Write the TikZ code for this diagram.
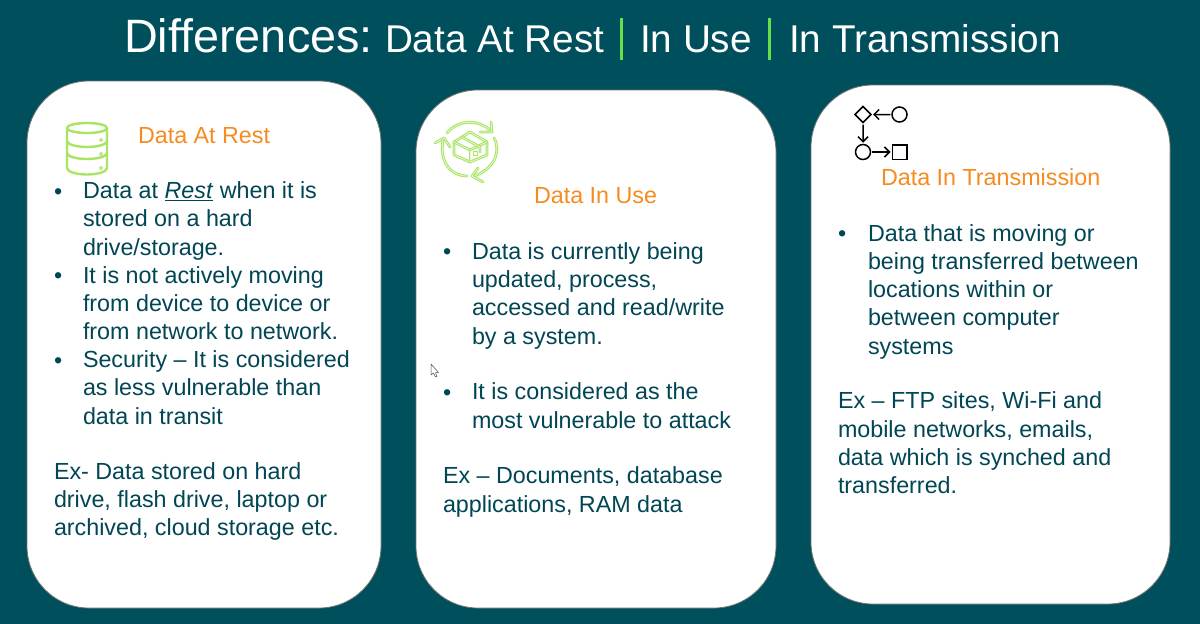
\documentclass[tikz,border=0pt]{standalone}
\usepackage{fontspec}
\setmainfont{Liberation Sans}
\usetikzlibrary{arrows.meta}
\definecolor{bgteal}{HTML}{004F5C}
\definecolor{bodyteal}{HTML}{004654}
\definecolor{headorange}{HTML}{F68B1F}
\definecolor{iconlime}{HTML}{A9E565}
\definecolor{barlime}{HTML}{66E04A}
\tikzset{
 card/.style={draw=black!55,line width=0.8pt,fill=white,rounded corners=62pt},
 para/.style={anchor=base west,inner sep=0pt,outer sep=0pt,align=left,text=bodyteal,font=\fontsize{23.3}{28.2}\selectfont},
 bul/.style={anchor=base west,inner sep=0pt,outer sep=0pt,text=bodyteal,font=\fontsize{23.3}{28.2}\selectfont},
 head/.style={anchor=base west,inner sep=0pt,outer sep=0pt,text=headorange,font=\fontsize{23.3}{26}\selectfont},
 ttl/.style={anchor=base west,inner sep=0pt,outer sep=0pt,text=white},
 bar/.style={draw=barlime,line width=3pt},
 ico/.style={draw=iconlime,line width=2.4pt,line cap=round,line join=round},
 ico2/.style={draw=iconlime,line width=1pt,double=white!70!iconlime,double distance=0.8pt,line cap=round,line join=round},
 flow/.style={draw=black,line width=1.5pt,fill=none},
 flowarr/.style={draw=black,line width=1.5pt,-{Straight Barb[length=5pt,width=10pt]}},
}
\begin{document}
\begin{tikzpicture}[x=1pt,y=-1pt]
\useasboundingbox (0,0) rectangle (1200,624);
\fill[bgteal] (0,0) rectangle (1200,624);
% title
\node[ttl,font=\fontsize{46.8}{50}\selectfont] (t1) at (124,52) {Differences:};
\node[ttl,font=\fontsize{38.7}{40}\selectfont] (t2) at (385,52) {Data At Rest};
\node[ttl,font=\fontsize{38.7}{40}\selectfont] (t3) at (640,52) {In Use};
\node[ttl,font=\fontsize{38.7}{40}\selectfont] (t4) at (789,52) {In Transmission};
\draw[bar] (621,18) -- (621,60);
\draw[bar] (769,18) -- (769,60);
% cards
\draw[card] (27,81) rectangle (381,608);
\draw[card] (416,90) rectangle (776,608);
\draw[card] (811,85) rectangle (1170,604);
% card 1
\node[head] (h1) at (138,143) {Data At Rest};
\draw[ico] (67,128) -- (67,168) arc[start angle=180,end angle=360,x radius=20,y radius=-6.5] -- (107,128);
\draw[ico] (87,128) ellipse[x radius=20,y radius=5];
\draw[ico] (67,141) arc[start angle=180,end angle=360,x radius=20,y radius=-6];
\draw[ico] (67,153) arc[start angle=180,end angle=360,x radius=20,y radius=-6];
\foreach \yy in {140,154,168}{\draw[iconlime,line width=1pt] (101,\yy) circle[radius=1.5];}
\node[bul] (b11) at (54,199) {•};
\node[para] (p11) at (83,255) {Data at \underline{\textit{Rest}} when it is\\stored on a hard\\drive/storage.};
\node[bul] (b12) at (54,283.5) {•};
\node[para] (p12) at (83,339.5) {It is not actively moving\\from device to device or\\from network to network.};
\node[bul] (b13) at (54,368) {•};
\node[para] (p13) at (83,424) {Security – It is considered\\as less vulnerable than\\data in transit};
\node[para] (p14) at (54,535.5) {Ex- Data stored on hard\\drive, flash drive, laptop or\\archived, cloud storage etc.};
% card 2
\node[head] (h2) at (534,203) {Data In Use};
\begin{scope}[shift={(415,100)}]
\draw[ico2] (32,33) .. controls (42,20) and (64,18) .. (77,32);
\draw[ico2] (65,32) -- (77,32) -- (76,22);
\draw[ico2] (79,38) .. controls (87,52) and (78,70) .. (59,76);
\draw[ico2] (63,68) -- (57,76) -- (68,82);
\draw[ico2] (52,76) .. controls (36,76) and (24,62) .. (28,40);
\draw[ico2] (20,43) -- (29,38) -- (35,47);
\draw[ico2] (55,32) -- (72,42) -- (72,55) -- (55,62) -- (39,55) -- (39,42) -- cycle;
\draw[ico2] (39,42) -- (55,50) -- (72,42);
\draw[ico2] (55,50) -- (55,62);
\draw[ico2] (47,37) -- (65,47) -- (65,52);
\draw[iconlime,line width=0.9pt] (58.5,51.5) rectangle (62,55);
\end{scope}
\node[bul] (b21) at (443,259) {•};
\node[para] (p21) at (472,344) {Data is currently being\\updated, process,\\accessed and read/write\\by a system.};
\node[bul] (b22) at (443,400) {•};
\node[para] (p22) at (472,428) {It is considered as the\\most vulnerable to attack};
\node[para] (p23) at (443,512) {Ex – Documents, database\\applications, RAM data};
% cursor
\draw[black!70,fill=white,line width=0.5pt,line join=round] (431,364) -- (431,375) -- (433.5,373) -- (435.5,377) -- (437,376.5) -- (435.5,372.5) -- (438.5,372.5) -- cycle;
% card 3
\node[head] (h3) at (881,185) {Data In Transmission};
\node[flow,draw,shape=rectangle,rotate=45,minimum size=11.3pt,inner sep=0pt] (d) at (863,114.5) {};
\node[flow,draw,shape=circle,minimum size=15pt,inner sep=0pt] (c1) at (899.5,114.5) {};
\node[flow,draw,shape=circle,minimum size=15pt,inner sep=0pt] (c2) at (863,152) {};
\node[flow,draw,shape=rectangle,minimum size=14.5pt,inner sep=0pt] (s) at (899.5,152) {};
\draw[flowarr,shorten >=1pt,shorten <=1pt] (c1) -- (d);
\draw[flowarr,shorten >=1pt,shorten <=1pt] (d) -- (c2);
\draw[flowarr,shorten >=1pt,shorten <=1pt] (c2) -- (s);
\node[bul] (b31) at (838,241) {•};
\node[para] (p31) at (868,354) {Data that is moving or\\being transferred between\\locations within or\\between computer\\systems};
\node[para] (p32) at (838,493.5) {Ex – FTP sites, Wi-Fi and\\mobile networks, emails,\\data which is synched and\\transferred.};
\end{tikzpicture}
\end{document}
